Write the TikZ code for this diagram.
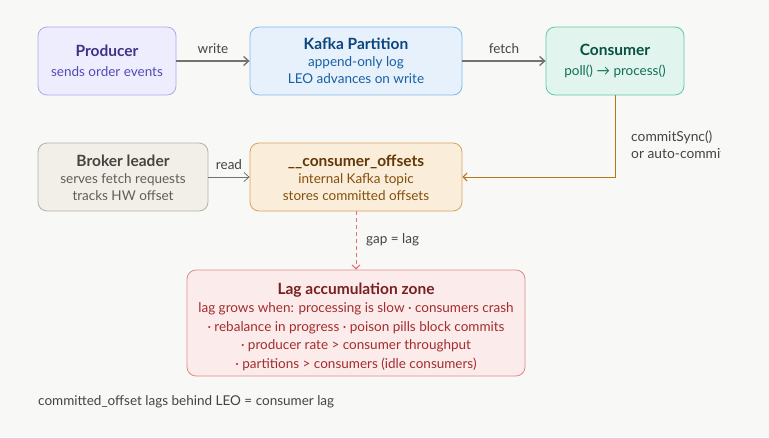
\documentclass[tikz,border=0pt]{standalone}
\usepackage{fontspec}
\setmainfont{Lato}
\usetikzlibrary{arrows.meta}

\definecolor{bgpaper}{HTML}{F8F8F6}
\definecolor{prodfill}{HTML}{EEEDFE}
\definecolor{prodline}{HTML}{AFA9EC}
\definecolor{prodhead}{HTML}{3C3489}
\definecolor{prodtext}{HTML}{534AB7}
\definecolor{partfill}{HTML}{E6F1FB}
\definecolor{partline}{HTML}{85B7EB}
\definecolor{parthead}{HTML}{0C447C}
\definecolor{parttext}{HTML}{185FA5}
\definecolor{consfill}{HTML}{E1F5EE}
\definecolor{consline}{HTML}{5DCAA5}
\definecolor{conshead}{HTML}{085041}
\definecolor{constext}{HTML}{0F6E56}
\definecolor{brokfill}{HTML}{F1EFE8}
\definecolor{brokline}{HTML}{B4B2A9}
\definecolor{brokhead}{HTML}{444441}
\definecolor{broktext}{HTML}{5F5E5A}
\definecolor{offsfill}{HTML}{FAEEDA}
\definecolor{offsline}{HTML}{D9A35A}
\definecolor{offshead}{HTML}{633806}
\definecolor{offstext}{HTML}{854F0B}
\definecolor{lagfill}{HTML}{FCEBEB}
\definecolor{lagline}{HTML}{E08A8A}
\definecolor{laghead}{HTML}{791F1F}
\definecolor{lagtext}{HTML}{A32D2D}
\definecolor{flowgray}{HTML}{73726C}
\definecolor{labelgray}{HTML}{444441}
\definecolor{commitline}{HTML}{BA7517}
\definecolor{gapline}{HTML}{E86F6F}

\tikzset{
  box/.style={draw, rounded corners=9pt, line width=0.8pt, align=center, inner sep=0pt,
    font=\fontsize{13.5}{17}\selectfont},
  flow/.style={draw=flowgray, line width=1.3pt, -{Straight Barb[length=5pt,width=9pt]}},
  lbl/.style={text=labelgray, inner sep=0pt, font=\fontsize{13.5}{17}\selectfont},
}
\newcommand{\headfont}{\fontsize{15.5}{17}\selectfont\bfseries}

\begin{document}
\begin{tikzpicture}[x=1pt, y=-1pt]
	\useasboundingbox [fill=bgpaper] (0,0) rectangle (769,437);

	\node [box, fill=prodfill, draw=prodline, minimum width=138pt, minimum height=68pt] (prod) at (107,61)
		{{\headfont\color{prodhead}Producer}\\[3pt] {\color{prodtext}sends order events}};
	\node [box, fill=partfill, draw=partline, minimum width=212pt, minimum height=68pt] (part) at (356,61)
		{{\headfont\color{parthead}Kafka Partition}\\ {\color{parttext}append-only log}\\ {\color{parttext}LEO advances on write}};
	\node [box, fill=consfill, draw=consline, minimum width=138pt, minimum height=68pt] (cons) at (615,61)
		{{\headfont\color{conshead}Consumer}\\[3pt] {\color{constext}poll() → process()}};

	\node [box, fill=brokfill, draw=brokline, minimum width=170pt, minimum height=68pt] (brok) at (123,177)
		{{\headfont\color{brokhead}\rule{0pt}{13pt}Broker leader}\\ {\color{broktext}serves fetch requests}\\ {\color{broktext}tracks HW offset}};
	\node [box, fill=offsfill, draw=offsline, minimum width=212pt, minimum height=68pt] (offs) at (356,177)
		{{\headfont\color{offshead}\rule{0pt}{13pt}\_\_consumer\_offsets}\\ {\color{offstext}internal Kafka topic}\\ {\color{offstext}stores committed offsets}};

	\node [box, fill=lagfill, draw=lagline, minimum width=338pt, minimum height=106pt,
		font=\fontsize{13.5}{18.5}\selectfont] (lag) at (356,323)
		{{\headfont\color{laghead}\rule{0pt}{19pt}Lag accumulation zone}\\
		 {\color{lagtext}lag grows when: processing is slow · consumers crash}\\
		 {\color{lagtext}· rebalance in progress · poison pills block commits}\\
		 {\color{lagtext}· producer rate > consumer throughput}\\
		 {\color{lagtext}· partitions > consumers (idle consumers)}};

	\draw [flow] (prod) -- node[lbl, above=7pt] (wlbl) {write} (part);
	\draw [flow] (part) -- node[lbl, above=7pt] (flbl) {fetch} (cons);
	\draw [flow, line width=0.8pt] (brok) -- node[lbl, above=7pt] (rlbl) {read} (offs);
	\draw [draw=commitline, line width=1pt, -{Straight Barb[length=4pt,width=8pt]}] (cons.south) |- (offs.east);
	\begin{scope}
		\clip (0,0) rectangle (720,437);
		\node [lbl, anchor=west, align=left, font=\fontsize{13.8}{17}\selectfont] (clbl) at (631,145) {commitSync()\\or auto-commit};
	\end{scope}
	\draw [draw=gapline, line width=1pt, dash pattern=on 4pt off 3pt, -{Straight Barb[length=4pt,width=8pt]}] (offs.south) -- (lag.north);
	\node [lbl, anchor=west] (glbl) at (366,240) {gap = lag};

	\node [lbl, anchor=west] (foot) at (38,402) {committed\_offset lags behind LEO = consumer lag};
\end{tikzpicture}
\end{document}
